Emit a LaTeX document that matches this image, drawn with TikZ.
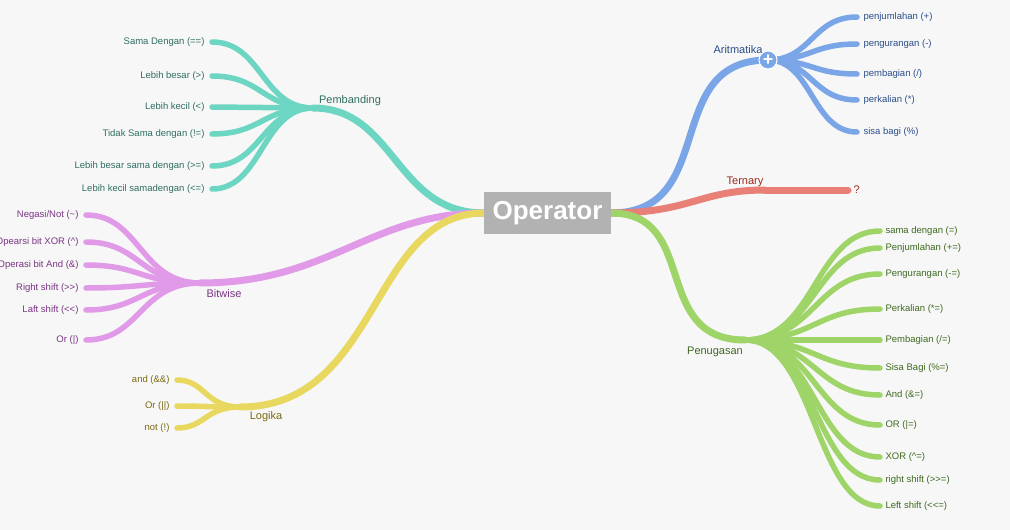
\documentclass[tikz,border=0pt]{standalone}
\usepackage{fontspec}
\setmainfont{Liberation Sans}
\begin{document}
\begin{tikzpicture}[x=1pt,y=-1pt,
  br/.style={line width=7pt,line cap=round},
  lf/.style={line width=5.5pt,line cap=round},
  lt/.style={font=\fontsize{9.5}{11}\selectfont},
  ml/.style={font=\fontsize{11}{13}\selectfont}]
\definecolor{cT}{HTML}{6DD6C2}\definecolor{cP}{HTML}{E09AE8}\definecolor{cY}{HTML}{E8D860}
\definecolor{cB}{HTML}{7AA6E8}\definecolor{cR}{HTML}{E88078}\definecolor{cG}{HTML}{9ED468}
\definecolor{tT}{HTML}{2F6E62}\definecolor{tP}{HTML}{7A3584}\definecolor{tY}{HTML}{7A6A10}
\definecolor{tB}{HTML}{2A4E8A}\definecolor{tR}{HTML}{9A2A20}\definecolor{tG}{HTML}{3E6A20}
\fill[white!97!black] (0,0) rectangle (1010,530);
\useasboundingbox (0,0) rectangle (1010,530);
\coordinate (L) at (484,213); \coordinate (R) at (611,213);
\coordinate (hPem) at (313,108); \coordinate (hBit) at (200,283);
\coordinate (hLog) at (240,407); \coordinate (hAri) at (768,60);
\coordinate (hTer) at (765,190); \coordinate (hPen) at (745,340);
% main branches
\draw[br,cT] (L) .. controls (395,213) and (395,108) .. (hPem);
\draw[br,cP] (L) .. controls (370,213) and (330,283) .. (hBit);
\draw[br,cY] (L) .. controls (370,213) and (380,407) .. (hLog);
\draw[br,cB] (R) .. controls (720,213) and (660,60) .. (hAri);
\draw[br,cR] (R) .. controls (690,213) and (700,190) .. (hTer);
\coordinate (eTer) at (848,190);
\draw[br,cR] (hTer) -- (eTer);
\draw[br,cG] (R) .. controls (700,213) and (650,340) .. (hPen);
% leaves left
\foreach \y/\t [count=\i] in {42/{Sama Dengan (==)},76/{Lebih besar (>)},107/{Lebih kecil (<)},134/{Tidak Sama dengan (!=)},166/{Lebih besar sama dengan (>=)},189/{Lebih kecil samadengan (<=)}}{
  \coordinate (pe\i) at (212,\y);
  \draw[lf,cT] (hPem) .. controls (262,108) and (262,\y) .. (pe\i);
  \node[lt,tT,anchor=east] (pt\i) at (pe\i) [xshift=-4pt] {\t};}
\foreach \y/\t [count=\i] in {215/{Negasi/Not (\textasciitilde)},242/{Opearsi bit XOR (\textasciicircum)},265/{Operasi bit And (\&)},288/{Right shift (>{}>)},310/{Laft shift (<{}<)},340/{Or (|)}}{
  \coordinate (be\i) at (86,\y);
  \draw[lf,cP] (hBit) .. controls (140,283) and (140,\y) .. (be\i);
  \node[lt,tP,anchor=east] (bt\i) at (be\i) [xshift=-4pt] {\t};}
\foreach \y/\t [count=\i] in {380/{and (\&\&)},406/{Or (||)},428/{not (!)}}{
  \coordinate (le\i) at (177,\y);
  \draw[lf,cY] (hLog) .. controls (205,407) and (205,\y) .. (le\i);
  \node[lt,tY,anchor=east] (ltx\i) at (le\i) [xshift=-4pt] {\t};}
% leaves right
\foreach \y/\t [count=\i] in {17/{penjumlahan (+)},44/{pengurangan (-)},74/{pembagian (/)},100/{perkalian (*)},132/{sisa bagi (\%)}}{
  \coordinate (ae\i) at (857,\y);
  \draw[lf,cB] (hAri) .. controls (812,60) and (812,\y) .. (ae\i);
  \node[lt,tB,anchor=west] (at\i) at (ae\i) [xshift=3pt] {\t};}
\foreach \y/\t [count=\i] in {231/{sama dengan (=)},248/{Penjumlahan (+=)},274/{Pengurangan (-=)},309/{Perkalian (*=)},340/{Pembagian (/=)},368/{Sisa Bagi (\%=)},395/{And (\&=)},425/{OR (|=)},457/{XOR (\textasciicircum=)},480/{right shift (>{}>=)},506/{Left shift (<{}<=)}}{
  \coordinate (ge\i) at (880,\y);
  \draw[lf,cG] (hPen) .. controls (815,340) and (815,\y) .. (ge\i);
  \node[lt,tG,anchor=west] (gt\i) at (ge\i) [xshift=2pt] {\t};}
% main labels
\node[ml,tT] (nPem) at (350,101) {Pembanding};
\node[ml,tP] (nBit) at (224,294) {Bitwise};
\node[ml,tY] (nLog) at (266,417) {Logika};
\node[ml,tB] (nAri) at (738,50) {Aritmatika};
\node[ml,tR] (nTer) at (745,182) {Ternary};
\node[ml,tR,anchor=west] (nQ) at (eTer) [xshift=2pt] {?};
\node[ml,tG] (nPen) at (715,352) {Penugasan};
\node[circle,fill=cB,draw=white,line width=1pt,minimum size=18pt,inner sep=0pt,text=white,font=\bfseries\fontsize{18}{18}\selectfont] (plus) at (hAri) {+};
% center
\node[fill=black!30,text=white,font=\bfseries\fontsize{26}{28}\selectfont,minimum width=127pt,minimum height=42pt,inner sep=0pt] (op) at (547.5,213) {Operator};
\end{tikzpicture}
\end{document}
